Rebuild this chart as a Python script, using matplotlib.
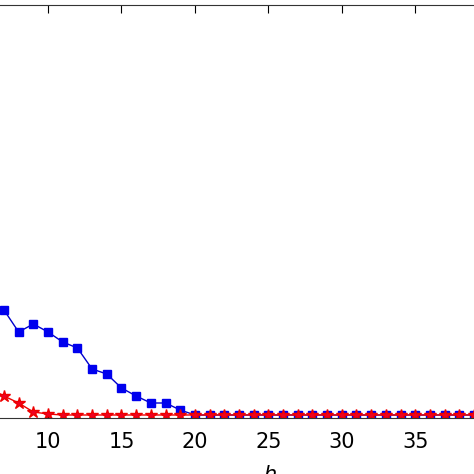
import matplotlib
matplotlib.use("Agg")
import matplotlib.pyplot as plt
import numpy as np

h = list(range(6, 41))
blue = [110, 108, 86, 94, 86, 76, 70, 49, 44, 30, 22, 15, 15, 8] + [3] * 21
red = [30, 22, 15, 6, 4] + [3] * 30

fig = plt.figure(figsize=(4.74, 4.74), dpi=100)
ax = fig.add_axes([0, 56/474, 1, (418-5)/474])
ax.plot(h, blue, '-s', color='#0000cc', ms=5.5, lw=1, mfc='#0000ee', mec='#0000ee')
ax.plot(h, red, '-*', color='#ee0000', ms=9, lw=1, mfc='#ee0022', mec='#ee0000')
ax.set_xlim(6.73, 39.0)
ax.set_ylim(0, 413)
ax.set_xticks([10, 15, 20, 25, 30, 35])
ax.set_yticks([])
ax.tick_params(axis='x', direction='in', top=True, labelsize=15, length=6, pad=10)
ax.spines['left'].set_visible(False)
ax.spines['right'].set_visible(False)
for s in ['top', 'bottom']:
    ax.spines[s].set_color('#333333')
ax.set_xlabel('h', style='italic', fontsize=15)
ax.xaxis.set_label_coords(270/474, -(465-418)/413)
fig.savefig('out.png', dpi=100)
